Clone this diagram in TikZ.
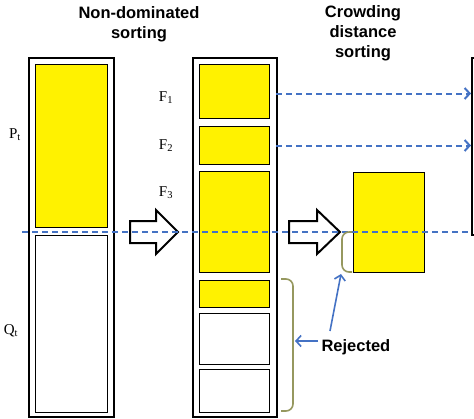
\documentclass[tikz,border=0pt]{standalone}
\usepackage{fontspec}
\setmainfont{Liberation Serif}
\newfontfamily\headfont{Liberation Sans}
\usetikzlibrary{arrows.meta}
\definecolor{dashblue}{RGB}{68,114,196}
\definecolor{braceolive}{RGB}{150,152,95}

\begin{document}
\begin{tikzpicture}[x=1pt,y=-1pt,
  col/.style={draw, line width=2pt, inner sep=0pt, anchor=north west},
  ybox/.style={draw, fill=yellow, line width=1pt, inner sep=0pt, anchor=north west},
  wbox/.style={draw, fill=white, line width=1pt, inner sep=0pt, anchor=north west},
  dashline/.style={dashblue, line width=2pt, dash pattern=on 6pt off 4pt},
  bluearrow/.style={dashblue, line width=1.6pt, -{Straight Barb[length=5pt,width=11pt]}},
  bracket/.style={braceolive, line width=1.6pt, rounded corners=7pt},
  bigarrow/.style={draw, fill=white, line width=2pt, line join=miter},
  head/.style={font=\headfont\bfseries\fontsize{16.5}{20}\selectfont, align=center},
  lab/.style={font=\fontsize{15}{18}\selectfont}]
\useasboundingbox (0,0) rectangle (474,418);

% parent + offspring
\node[col, minimum width=85, minimum height=359] (pcol) at (28,57) {};
\node[ybox, minimum width=72, minimum height=163] (pt) at (35,64) {};
\node[wbox, minimum width=72, minimum height=177] (qt) at (35,235) {};
\node[lab] (ptlab) at (15,135) {P\textsubscript{t}};
\node[lab] (qtlab) at (11,331) {Q\textsubscript{t}};

% fronts
\node[col, minimum width=84, minimum height=359] (fcol) at (192,57) {};
\node[ybox, minimum width=70, minimum height=54] (f1) at (199,64) {};
\node[ybox, minimum width=70, minimum height=38] (f2) at (199,126) {};
\node[ybox, minimum width=70, minimum height=101] (f3) at (199,171) {};
\node[ybox, minimum width=70, minimum height=27] (f4) at (199,280) {};
\node[wbox, minimum width=70, minimum height=51] (f5) at (199,313) {};
\node[wbox, minimum width=70, minimum height=43] (f6) at (199,369) {};
\node[lab] (f1lab) at (166,98) {F\textsubscript{1}};
\node[lab] (f2lab) at (166,146) {F\textsubscript{2}};
\node[lab] (f3lab) at (166,193) {F\textsubscript{3}};

% crowding + next population
\node[ybox, minimum width=71, minimum height=100] (cd) at (353,172) {};
\node[col, minimum width=20, minimum height=177] (next) at (471,57) {};

\node[head] (t1) at (139,24) {Non-dominated\\sorting};
\node[head] (t2) at (363,33) {Crowding\\distance\\sorting};

% block arrows
\draw[bigarrow] (130,221) -- (156,221) -- (156,210) -- (178,232) -- (156,254) -- (156,243) -- (130,243) -- cycle;
\draw[bigarrow] (289,221) -- (317,221) -- (317,210) -- (340,232) -- (317,254) -- (317,243) -- (289,243) -- cycle;

% cut line + survivors
\coordinate (cut) at (22,232);
\coordinate (f1out) at (276,93.5);
\coordinate (f2out) at (276,145.5);
\draw[dashline] (cut) -- (cut -| next.west);
\draw[dashline, -{Straight Barb[length=5pt,width=11pt]}] (f1out) -- (next.west |- f1out);
\draw[dashline, -{Straight Barb[length=5pt,width=11pt]}] (f2out) -- (next.west |- f2out);

% brackets
\draw[bracket] (352,232) -- (342,232) -- (342,272) -- (352,272);
\draw[bracket] (281,279) -- (293,279) -- (293,411) -- (281,411);
\coordinate (bigtip) at (295,341);
\coordinate (smalltip) at (341,274);
\coordinate (uptail) at (330,331);

\node[head, anchor=west] (rej) at (318,347) {Rejected};
\draw[bluearrow] (rej.west |- bigtip) -- (bigtip);
\draw[bluearrow] (uptail) -- (smalltip);

\end{tikzpicture}
\end{document}
